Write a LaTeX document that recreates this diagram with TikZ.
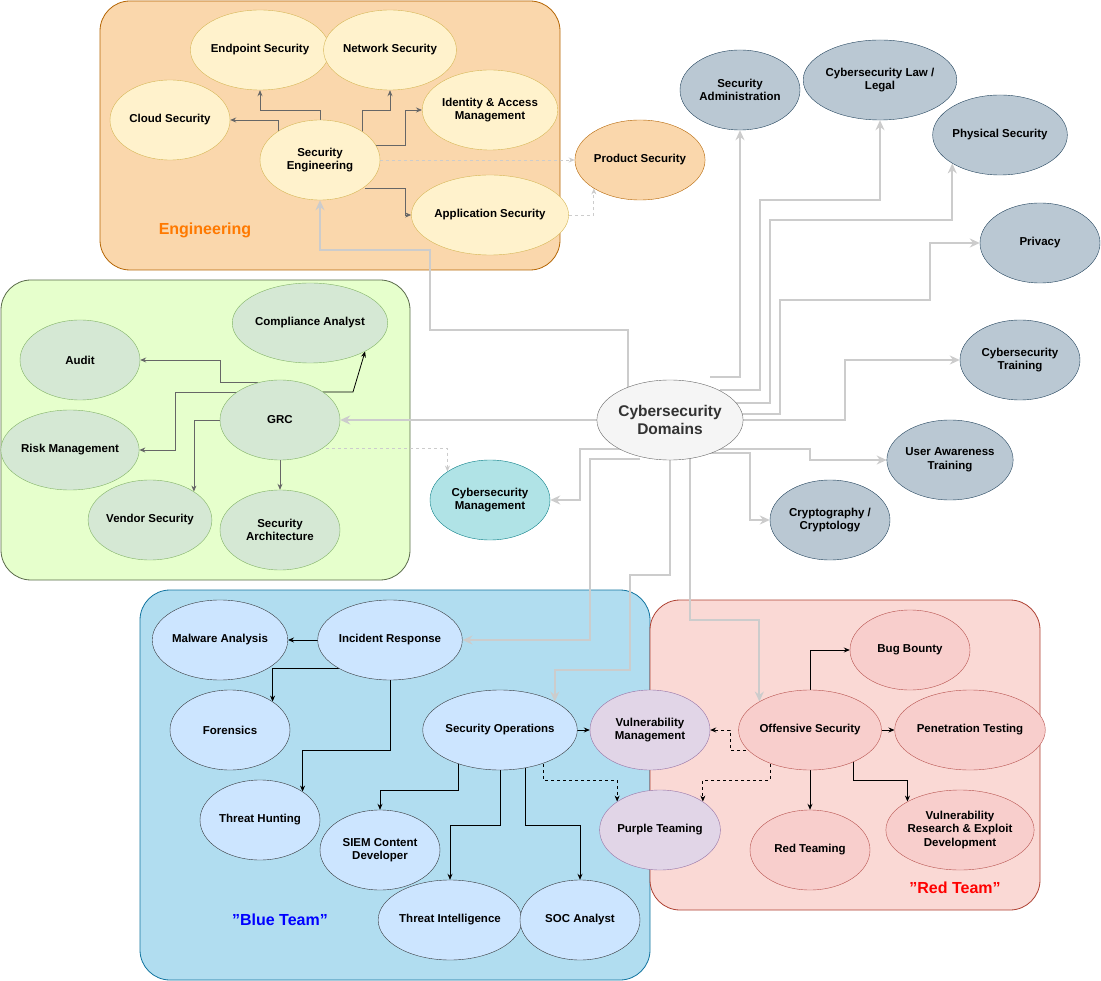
\documentclass[tikz,border=0pt]{standalone}
\usepackage{fontspec}
\setmainfont{Liberation Sans}
\usetikzlibrary{shapes.geometric,arrows.meta}
\definecolor{engF}{HTML}{FAD7AC}\definecolor{engD}{HTML}{B46504}
\definecolor{ennF}{HTML}{FFF2CC}\definecolor{ennD}{HTML}{D6B656}
\definecolor{grcF}{HTML}{E6FFCC}\definecolor{grcD}{HTML}{5A6B4A}
\definecolor{grnF}{HTML}{D5E8D4}\definecolor{grnD}{HTML}{82B366}
\definecolor{bluF}{HTML}{B1DDF0}\definecolor{bluD}{HTML}{10739E}
\definecolor{blnF}{HTML}{CCE5FF}\definecolor{blnD}{HTML}{36393D}
\definecolor{redF}{HTML}{FAD9D5}\definecolor{redD}{HTML}{AE4132}
\definecolor{rdnF}{HTML}{F8CECC}\definecolor{rdnD}{HTML}{B85450}
\definecolor{purF}{HTML}{E1D5E7}\definecolor{purD}{HTML}{9673A6}
\definecolor{gryF}{HTML}{BAC8D3}\definecolor{gryD}{HTML}{23445D}
\definecolor{cmF}{HTML}{B0E3E6}\definecolor{cmD}{HTML}{0E8088}
\definecolor{domF}{HTML}{F5F5F5}\definecolor{domD}{HTML}{666666}
\definecolor{domT}{HTML}{333333}
\definecolor{edgeL}{HTML}{CCCCCC}\definecolor{edgeD}{HTML}{666666}
\pgfdeclarelayer{boxes}\pgfdeclarelayer{edges}
\pgfsetlayers{boxes,edges,main}
\tikzset{
 el/.style={ellipse,draw,minimum width=120pt,minimum height=80pt,inner sep=0pt,align=center,
   font=\fontsize{11.5}{13.5}\selectfont\bfseries},
 eng/.style={el,fill=ennF,draw=ennD},
 grn/.style={el,fill=grnF,draw=grnD},
 blu/.style={el,fill=blnF,draw=blnD},
 rdn/.style={el,fill=rdnF,draw=rdnD},
 pur/.style={el,fill=purF,draw=purD},
 gry/.style={el,fill=gryF,draw=gryD},
 grp/.style={rounded corners=30pt,line width=0.8pt},
 dom/.style={draw=edgeL,line width=2pt,-{Stealth[length=10pt,width=9pt]}},
 eg/.style={draw=edgeD,line width=0.8pt,-{Stealth[length=6pt,width=5pt]}},
 ek/.style={draw=black,line width=0.8pt,-{Stealth[length=6pt,width=5pt]}},
 ed/.style={draw=black,line width=0.8pt,dashed,-{Stealth[length=6pt,width=5pt]}},
 el2/.style={draw=edgeL,line width=0.8pt,dashed,-{Stealth[length=6pt,width=5pt]}},
 lab/.style={font=\fontsize{16}{18}\selectfont\bfseries},
}
\begin{document}
\begin{tikzpicture}[x=1pt,y=-1pt]
\useasboundingbox (0,0) rectangle (1101,981);
\begin{pgfonlayer}{boxes}
\draw[grp,fill=engF,draw=engD] (100,1) rectangle (560,270);
\draw[grp,fill=grcF,draw=grcD] (1,280) rectangle (410,580);
\draw[grp,fill=bluF,draw=bluD] (140,590) rectangle (650,980);
\draw[grp,fill=redF,draw=redD] (650,600) rectangle (1040,910);
\end{pgfonlayer}
% Engineering
\node[eng] (EP) at (260,50) {Endpoint Security};
\node[eng] (NS) at (390,50) {Network Security};
\node[eng] (CS) at (170,120) {Cloud Security};
\node[eng] (IAM) at (490,110) {Identity \& Access\\Management};
\node[eng] (SE) at (320,160) {Security\\Engineering};
\node[eng] (APP) at (490,215) {Application Security};
\node[el,fill=engF,draw=engD] (PS) at (640,160) {Product Security};
\node[lab,text=orange!95!red] (ENGL) at (205,230) {Engineering};
% right grey
\node[gry] (SA) at (740,90) {Security\\Administration};
\node[gry] (LAW) at (880,80) {Cybersecurity Law /\\Legal};
\node[gry] (PHY) at (1000,135) {Physical Security};
\node[gry] (PRI) at (1040,243) {Privacy};
\node[gry] (TRN) at (1020,360) {Cybersecurity\\Training};
\node[gry] (UA) at (950,460) {User Awareness\\Training};
\node[gry] (CRY) at (830,520) {Cryptography /\\Cryptology};
\node[el,fill=domF,draw=domD,text=domT,font=\fontsize{15.5}{18}\selectfont\bfseries] (D) at (670,420) {Cybersecurity\\Domains};
\node[el,fill=cmF,draw=cmD] (CM) at (490,500) {Cybersecurity\\Management};
% GRC
\node[grn] (CA) at (310,323) {Compliance Analyst};
\node[grn] (AU) at (80,360) {Audit};
\node[grn] (GRC) at (280,420) {GRC};
\node[grn] (RM) at (70,450) {Risk Management};
\node[grn] (VS) at (150,520) {Vendor Security};
\node[grn] (SAR) at (280,530) {Security\\Architecture};
% Blue
\node[blu] (MA) at (220,640) {Malware Analysis};
\node[blu] (IR) at (390,640) {Incident Response};
\node[blu] (FO) at (230,730) {Forensics};
\node[blu] (SO) at (500,730) {Security Operations};
\node[blu] (TH) at (260,820) {Threat Hunting};
\node[blu] (SIEM) at (380,850) {SIEM Content\\Developer};
\node[blu] (TI) at (450,920) {Threat Intelligence};
\node[blu] (SOC) at (580,920) {SOC Analyst};
\node[pur] (VM) at (650,730) {Vulnerability\\Management};
\node[pur] (PT) at (660,830) {Purple Teaming};
\node[lab,text=blue] (BTL) at (280,920) {"Blue Team"};
% Red
\node[rdn] (BB) at (910,650) {Bug Bounty};
\node[rdn] (OFF) at (810,730) {Offensive Security};
\node[rdn] (PEN) at (970,730) {Penetration Testing};
\node[rdn] (RT) at (810,850) {Red Teaming};
\node[rdn] (VR) at (960,830) {Vulnerability\\Research \& Exploit\\Development};
\node[lab,text=red] (RTL) at (955,888) {"Red Team"};

\begin{pgfonlayer}{edges}
% domains
\draw[dom] ([shift={(-42,0)}]D.center) -- ++(0,-90) -| (430,250) -| (SE.south);
\draw[dom] ([shift={(40,-43)}]D.center) -| (SA.south);
\draw[dom] ([shift={(50,-30)}]D.center) -| (760,200) -| (LAW.south);
\draw[dom] ([shift={(55,-17)}]D.center) -| (770,220) -| (PHY.south west);
\draw[dom] ([shift={(55,-6)}]D.center) -| (780,300) -| (930,243) -- (PRI.west);
\draw[dom] (D.center) -| (845,360) -- (TRN.west);
\draw[dom] ([shift={(40,29)}]D.center) -| (810,460) -- (UA.west);
\draw[dom] ([shift={(40,33)}]D.center) -| (750,520) -- (CRY.west);
\draw[dom] ([shift={(-40,29)}]D.center) -| (580,500) -- (CM.east);
\draw[dom] (D.center) -- (GRC.east);
\draw[dom] ([shift={(-30,39)}]D.center) -| (590,640) -- (IR.east);
\draw[dom] ([shift={(0,30)}]D.center) -- (670,575) -| (630,670) -| (SO.north east);
\draw[dom] ([shift={(20,30)}]D.center) -- (690,620) -| (OFF.north west);
% engineering
\draw[eg] ([shift={(-42,-20)}]SE.center) |- (CS.east);
\draw[eg] ([shift={(0,-20)}]SE.center) -- (320,110) -| (EP.south);
\draw[eg] ([shift={(42,-20)}]SE.center) -- (362,110) -| (NS.south);
\draw[eg] ([shift={(45,-15)}]SE.center) -- (405,145) |- (IAM.west);
\draw[eg] ([shift={(45,28)}]SE.center) -- (405,188) |- (APP.west);
\draw[el2] (SE.east) -- (PS.west);
\draw[el2] (APP.east) -| (PS.south west);
% GRC
\draw[eg] ([shift={(-23,-25)}]GRC.center) |- (220,382) |- (AU.east);
\draw[ek] ([shift={(43,-20)}]GRC.center) |- (353,392) -- (CA.south east);
\draw[eg] ([shift={(-43,-20)}]GRC.center) |- (175,392) |- (RM.east);
\draw[eg] ([shift={(-40,0)}]GRC.center) -| (VS.north east);
\draw[eg] (GRC.south) -- (SAR.north);
\draw[el2] ([shift={(40,28)}]GRC.center) -| (CM.north west);
% blue
\draw[ek] (IR.west) -- (MA.east);
\draw[ek] ([shift={(-40,28)}]IR.center) -| (FO.north east);
\draw[ek] (IR.center) -- (390,750) -| (TH.north east);
\draw[ek] (SO.east) -- (VM.west);
\draw[ek] ([shift={(-42,10)}]SO.center) -- (458,790) -| (SIEM.north);
\draw[ek] (SO.center) -- (500,825) -| (TI.north);
\draw[ek] ([shift={(25,10)}]SO.center) -- (525,825) -| (SOC.north);
\draw[ed] ([shift={(43,10)}]SO.center) -- (543,780) -| (PT.north west);
% red
\draw[ed] ([shift={(-40,20)}]OFF.center) -| (730,730) -- (VM.east);
\draw[ed] ([shift={(-40,28)}]OFF.center) -- (770,780) -| (PT.north east);
\draw[ek] (OFF.north) |- (BB.west);
\draw[ek] (OFF.east) -- (PEN.west);
\draw[ek] (OFF.south) -- (RT.north);
\draw[ek] ([shift={(43,10)}]OFF.center) -- (853,780) -| (VR.north west);
\end{pgfonlayer}
\end{tikzpicture}
\end{document}
